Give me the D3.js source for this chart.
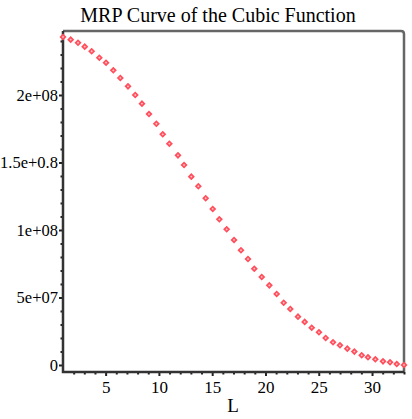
<!DOCTYPE html>
<html>
<head>
<meta charset="utf-8">
<script src="https://cdn.jsdelivr.net/npm/d3@7"></script>
<style>
    body { margin: 0; background: #fff; }
    svg { display: block; }
    .tick text { font-family: "Liberation Serif", "Times New Roman", serif; fill: #000; }
</style>
</head>
<body>
<div id="chart"></div>
<script>
// values (L, MRP)
var lValues = [1.0, 1.72, 2.41, 3.04, 3.69, 4.41, 5.04, 5.72, 6.38, 7.10,
    7.78, 8.41, 9.07, 9.76, 10.36, 10.98, 11.79, 12.36, 13.04, 13.70,
    14.39, 15.05, 15.67, 16.36, 17.05, 17.70, 18.36, 18.95, 19.65, 20.36,
    21.05, 21.71, 22.33, 23.05, 23.68, 24.34, 25.02, 25.65, 26.34, 26.99,
    27.68, 28.34, 29.03, 29.62, 30.31, 31.03, 31.69, 32.32, 33.0];
var mrpValues = [243.0e6, 241.0e6, 238.7e6, 235.8e6, 232.4e6, 227.6e6, 223.9e6, 218.3e6, 212.6e6, 206.4e6,
    200.0e6, 193.6e6, 185.9e6, 178.7e6, 170.9e6, 163.9e6, 155.3e6, 148.1e6, 139.5e6, 132.4e6,
    123.5e6, 115.6e6, 107.9e6, 100.5e6, 92.6e6, 85.0e6, 78.5e6, 71.3e6, 65.2e6, 59.0e6,
    52.6e6, 46.1e6, 41.5e6, 35.8e6, 31.9e6, 27.6e6, 24.2e6, 20.0e6, 16.8e6, 14.6e6,
    12.1e6, 9.9e6, 7.2e6, 5.7e6, 4.2e6, 2.7e6, 2.0e6, 0.7e6, 0];
var xTickValues = [5, 10, 15, 20, 25, 30];
var yTickValues = [0, 5e7, 1e8, 1.5e8, 2e8];
var yTickLabels = ["0", "5e+07", "1e+08", "1.5e+0.8", "2e+08"];

var renderChart = function () {
    var w = 412,
        h = 419,
        left = 63, right = 404, top = 31, bottom = 372,
        serif = "Liberation Serif, Times New Roman, serif";

    var svg = d3.select("#chart")
        .append("svg")
        .attr("width", w)
        .attr("height", h);

    var x = d3.scaleLinear().domain([1, 33]).range([left, right]);
    var y = d3.scaleLinear().domain([-5.2e6, 247.4e6]).range([bottom, top]);

    var data = lValues.map(function (d, i) { return { l: d, v: mrpValues[i] }; });

    // title
    svg.append("text")
        .attr("x", 218)
        .attr("y", 22)
        .attr("text-anchor", "middle")
        .attr("font-family", serif)
        .attr("font-size", 20)
        .text("MRP Curve of the Cubic Function");

    // minor ticks
    var xMinor = d3.range(2, 34).filter(function (d) { return d % 5 !== 0; });
    var yMinor = d3.range(0, 2.5e8, 1e7).filter(function (d) { return d % 5e7 !== 0; });

    svg.append("g")
        .attr("transform", "translate(0," + bottom + ")")
        .call(d3.axisBottom(x).tickValues(xMinor).tickSize(2.5).tickFormat(""))
        .call(function (g) { g.select(".domain").remove(); })
        .selectAll("line").attr("stroke", "#222").attr("stroke-width", 2);

    svg.append("g")
        .attr("transform", "translate(" + left + ",0)")
        .call(d3.axisLeft(y).tickValues(yMinor).tickSize(2.5).tickFormat(""))
        .call(function (g) { g.select(".domain").remove(); })
        .selectAll("line").attr("stroke", "#222").attr("stroke-width", 2);

    // major ticks + labels
    var xAxis = svg.append("g")
        .attr("transform", "translate(0," + bottom + ")")
        .call(d3.axisBottom(x).tickValues(xTickValues).tickSize(4).tickPadding(5).tickFormat(d3.format("d")));
    xAxis.select(".domain").remove();
    xAxis.selectAll("line").attr("stroke", "#222").attr("stroke-width", 2);
    xAxis.selectAll("text").attr("font-family", serif).attr("font-size", 17);

    var yAxis = svg.append("g")
        .attr("transform", "translate(" + left + ",0)")
        .call(d3.axisLeft(y).tickValues(yTickValues).tickSize(4).tickPadding(1)
            .tickFormat(function (d, i) { return yTickLabels[i]; }));
    yAxis.select(".domain").remove();
    yAxis.selectAll("line").attr("stroke", "#222").attr("stroke-width", 2);
    yAxis.selectAll("text").attr("font-family", serif).attr("font-size", 16.5);

    // boxed frame
    svg.append("path")
        .attr("d", "M" + right + "," + bottom + "V" + (top + 3) + "Q" + right + "," + top + " " + (right - 3) + "," + top + "H" + left)
        .attr("fill", "none")
        .attr("stroke", "#666")
        .attr("stroke-width", 2.5);
    svg.append("path")
        .attr("d", "M" + left + "," + top + "V" + bottom + "H" + right)
        .attr("fill", "none")
        .attr("stroke", "#333")
        .attr("stroke-width", 2.5);

    // axis label
    svg.append("text")
        .attr("x", 233)
        .attr("y", 412)
        .attr("text-anchor", "middle")
        .attr("font-family", serif)
        .attr("font-size", 19)
        .text("L");

    // points: small rotated squares with a light centre
    var marker = d3.symbol().type(d3.symbolSquare).size(11);
    svg.selectAll("path.pt")
        .data(data)
        .enter()
        .append("path")
        .attr("class", "pt")
        .attr("d", marker)
        .attr("transform", function (d) { return "translate(" + x(d.l) + "," + y(d.v) + ") rotate(45)"; })
        .attr("fill", "#ffc4c8")
        .attr("stroke", "#ff4f5c")
        .attr("stroke-width", 1.7);
};

renderChart();
</script>
</body>
</html>
